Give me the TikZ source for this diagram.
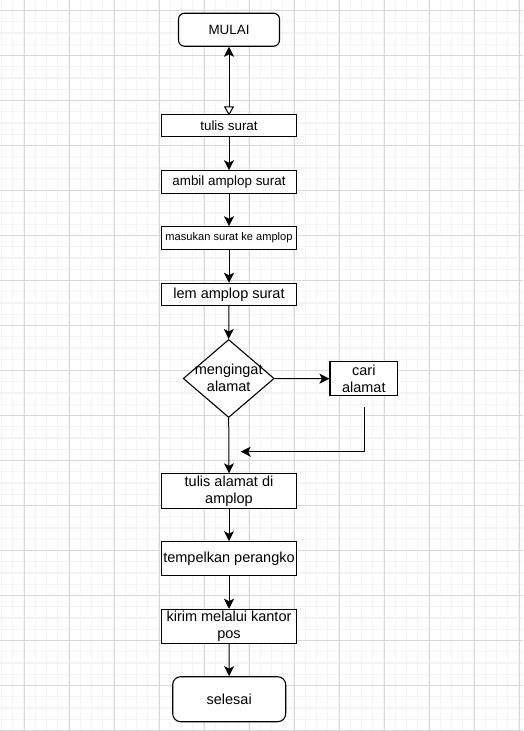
\documentclass[tikz,border=0pt]{standalone}
\usepackage{fontspec}
\setmainfont{Liberation Sans}
\usetikzlibrary{arrows.meta,shapes.geometric}
\definecolor{gridmajor}{RGB}{216,216,216}
\definecolor{gridminor}{RGB}{244,244,244}
\tikzset{
  box/.style={draw=black, line width=1.1pt, fill=white, rectangle, inner sep=0pt, align=center, minimum width=135pt},
  rbox/.style={box, rounded corners=7pt},
  decbox/.style={draw=black, line width=1.1pt, fill=white, diamond, inner sep=0pt},
  fsA/.style={font=\fontsize{13.4}{16}\selectfont},
  fsB/.style={font=\fontsize{14.5}{17}\selectfont},
  fsC/.style={font=\fontsize{11.1}{13}\selectfont},
  tipA/.tip={Stealth[length=10pt,width=10pt,inset=2.5pt]},
  conn/.style={draw=black, line width=1pt, -tipA},
  majorline/.style={draw=gridmajor, line width=1pt},
  minorline/.style={draw=gridminor, line width=1.2pt},
}
\begin{document}
\begin{tikzpicture}[x=1pt,y=-1pt]
\useasboundingbox (0,0) rectangle (523,731);
\fill[white] (0,0) rectangle (523,731);
% grid
\foreach \x in {1.5,12.75,...,523} \draw[minorline] (\x,0) -- (\x,731);
\foreach \y in {-0.75,10.5,...,731} \draw[minorline] (0,\y) -- (523,\y);
\foreach \x in {24,69,...,523} \draw[majorline] (\x,0) -- (\x,731);
\foreach \y in {10.5,55.5,...,731} \draw[majorline] (0,\y) -- (523,\y);

% nodes
\node[rbox, fsA, minimum width=101pt, minimum height=33pt, rounded corners=6pt] (mulai) at (229,29.7) {MULAI};
\node[box, fsA, minimum height=22pt] (tulis) at (229,125.5) {tulis surat};
\node[box, fsA, minimum height=22.5pt] (ambil) at (229,182) {ambil amplop surat};
\node[box, fsC, minimum height=22.5pt] (masukan) at (229,238) {masukan surat ke amplop};
\node[box, fsB, minimum height=22pt] (lem) at (229,294.3) {lem amplop surat};
\node[decbox, minimum width=91pt, minimum height=78pt] (dec) at (228.7,378.5) {};
\node[fsB, align=center, inner sep=0pt] (dectext) at (228.7,377.5) {mengingat\\alamat};
\node[box, fsB, minimum width=67.7pt, minimum height=34pt] (cari) at (363.8,378.7) {cari\\alamat};
\node[box, fsB, minimum height=34.3pt] (tulisalamat) at (229,491) {tulis alamat di\\amplop};
\node[box, fsB, minimum height=34pt] (tempel) at (229,558.7) {tempelkan perangko};
\node[box, fsB, minimum height=34pt] (kirim) at (229,626.3) {kirim melalui kantor\\pos};
\node[rbox, fsB, minimum width=113pt, minimum height=45pt, rounded corners=8pt] (selesai) at (229.2,699.2) {selesai};

\coordinate (c1) at (364,407.3);
\coordinate (c3) at (240.7,451.7);

% connectors
\draw[draw=black, line width=1pt, {Triangle[open,fill=white,length=9pt,width=10pt]}-tipA] ([yshift=-1.5pt]tulis.north) -- (mulai.south);
\draw[conn] (tulis) -- (ambil);
\draw[conn] (ambil) -- (masukan);
\draw[conn] (masukan) -- (lem);
\draw[conn] (lem) -- (dec.north);
\draw[conn] (dec.east) -- (cari.west);
\draw[conn] (c1) |- (c3);
\draw[conn] (dec.south) -- (tulisalamat.north);
\draw[conn] (tulisalamat) -- (tempel);
\draw[conn] (tempel) -- (kirim);
\draw[conn] (kirim) -- (selesai);
\end{tikzpicture}
\end{document}
